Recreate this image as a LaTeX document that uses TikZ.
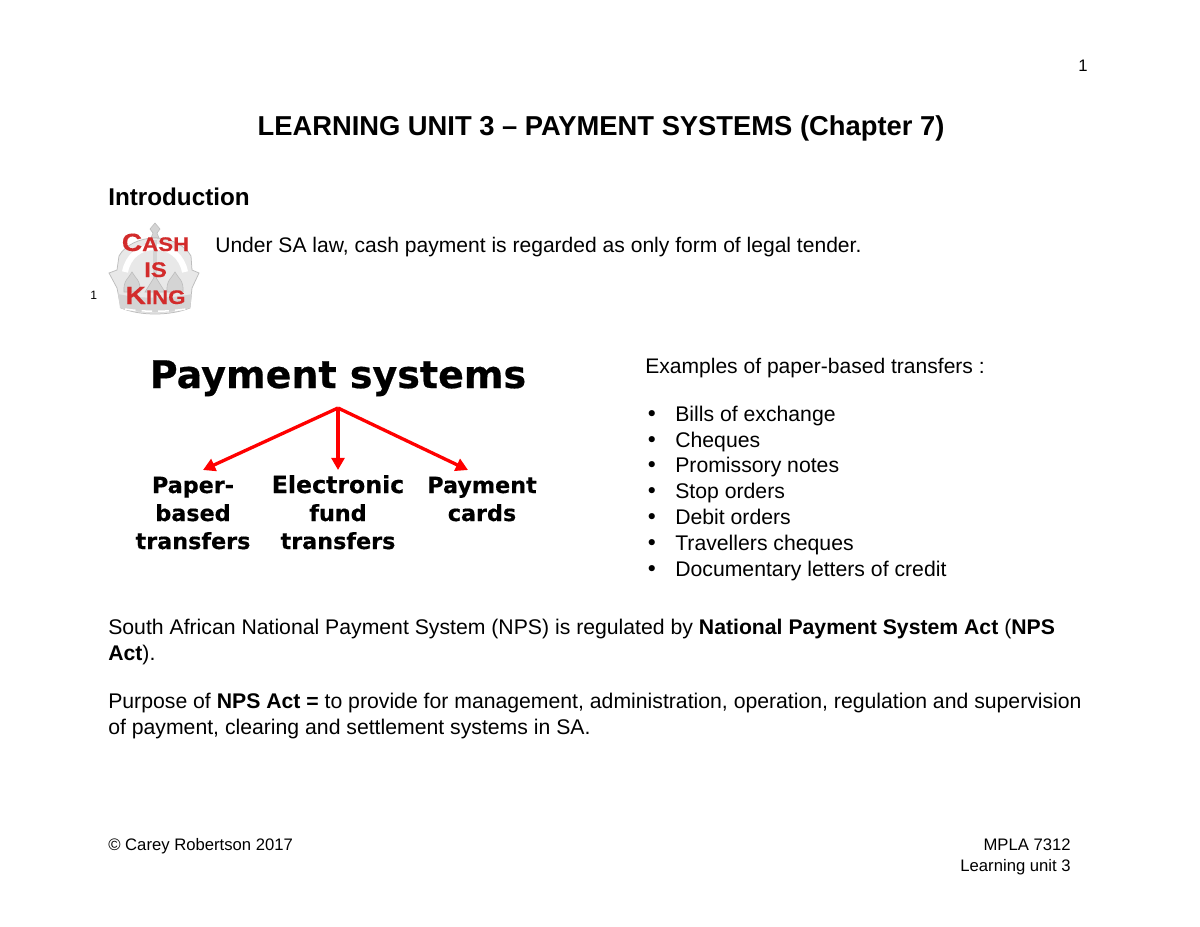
\documentclass[tikz,border=0pt]{standalone}
\usepackage{fontspec}
\setmainfont{Liberation Sans}
\newfontfamily\blk[FakeBold=0.5]{DejaVu Sans Bold}
\newfontfamily\blks[FakeBold=0.35]{DejaVu Sans Bold}
\newfontfamily\kingf[FakeStretch=1.13,FakeBold=0.2]{Liberation Sans Bold}
\newfontfamily\symf{DejaVu Sans}
\usetikzlibrary{arrows.meta}
\definecolor{crowngray}{HTML}{BDBDBD}
\definecolor{crownfill}{HTML}{E8E8E8}
\definecolor{crownmid}{HTML}{D4D4D4}
\definecolor{cashred}{HTML}{D22B2B}
\tikzset{
  x=0.66pt,y=-0.66pt,
  txt/.style={anchor=base west,inner sep=0pt,font=\fontsize{13.9}{16}\selectfont},
  para/.style={anchor=base west,inner sep=0pt,font=\fontsize{14}{16}\selectfont},
  foot/.style={inner sep=0pt,font=\fontsize{11}{13}\selectfont},
  bigt/.style={inner sep=0pt,anchor=base,font=\blk\fontsize{25.1}{28}\selectfont},
  subt/.style={inner sep=0pt,anchor=base,font=\blks\fontsize{14.7}{18}\selectfont},
  bul/.style={anchor=base,inner sep=0pt,font=\symf\fontsize{14}{14}\selectfont},
  redarrow/.style={draw=red,line width=2.2pt,-{Triangle[length=8pt,width=8.5pt]}},
  fleur/.style={fill=crownmid,draw=crowngray,line width=.4pt},
  redw/.style={inner sep=0pt,anchor=base,text=cashred}
}
\newcommand{\bigsm}[2]{\kingf\fontsize{16.5}{18}\selectfont #1\fontsize{13}{18}\selectfont #2}
\begin{document}
\begin{tikzpicture}
\path[use as bounding box,fill=white] (0,0) rectangle (1200,927);
% page text
\node[foot,anchor=base east] (pg) at (1088,71) {1};
\node[anchor=base,inner sep=0pt,font=\fontsize{18.05}{20}\selectfont\bfseries] (title) at (601,135) {LEARNING UNIT 3 – PAYMENT SYSTEMS (Chapter 7)};
\node[anchor=base west,inner sep=0pt,font=\fontsize{16}{18}\selectfont\bfseries] (intro) at (108,205) {Introduction};
\node[txt] (law) at (215,252) {Under SA law, cash payment is regarded as only form of legal tender.};
\node[anchor=base west,inner sep=0pt,font=\fontsize{8}{10}\selectfont] (fn) at (90,299) {1};
% crown
\fill[fleur] (155,223) -- (160,229) -- (157,233) -- (159,238) -- (151,238) -- (153,233) -- (150,229) -- cycle;
\fill[crownfill,draw=crowngray,line width=.5pt] (109,273) -- (117,270) -- (119,256) .. controls (125,245) and (140,238) .. (155,238) .. controls (170,238) and (185,245) .. (191,256) -- (192,270) -- (199,273) -- (192,288) -- (190,308) .. controls (170,316) and (140,316) .. (121,308) -- (117,288) -- cycle;
\draw[white,line width=4pt] (125,272) .. controls (128,256) and (140,247) .. (155,247) .. controls (170,247) and (182,256) .. (185,272);
\draw[crownmid,line width=2pt] (155,240) -- (155,300);
\foreach \c/\x in {fa/132,fb/175}{
  \fill[fleur] (\x,272) .. controls (\x+3,278) and (\x+9,280) .. (\x+8,292) -- (\x-8,292) .. controls (\x-9,280) and (\x-3,278) .. (\x,272) -- cycle;
}
\fill[fleur] (155,276) -- (165,292) -- (145,292) -- cycle;
\fill[crownmid] (118,294) .. controls (140,299) and (170,299) .. (192,294) -- (190,308) .. controls (170,314) and (140,314) .. (120,308) -- cycle;
\draw[white,line width=1pt,dash pattern=on 7pt off 4pt] (125,309) .. controls (145,312) and (165,312) .. (186,309);
\node[redw] (cash) at (155.5,251) {\bigsm{C}{ASH}};
\node[redw,font=\kingf\fontsize{14}{18}\selectfont] (is) at (155.5,277) {IS};
\node[redw] (king) at (155.5,304) {\bigsm{K}{ING}};
% chart
\node[bigt] (ps) at (338,388) {Payment systems};
\coordinate (apex) at (338,408);
\node[subt] (pa) at (193,493) {Paper-};
\node[subt] (pb) at (193,521) {based};
\node[subt] (pc) at (193,549) {transfers};
\node[subt,font=\blks\fontsize{15.6}{18}\selectfont] (ea) at (338,493) {Electronic};
\node[subt] (eb) at (338,521) {fund};
\node[subt] (ec) at (338,549) {transfers};
\node[subt] (ca) at (482,493) {Payment};
\node[subt] (cb) at (482,521) {cards};
\coordinate (pt) at (203,470);
\coordinate (et) at (338,470);
\coordinate (ct) at (468,470);
\draw[redarrow] (apex) -- (pt);
\draw[redarrow] (apex) -- (et);
\draw[redarrow] (apex) -- (ct);
% right column
\node[txt] (ex) at (645,373) {Examples of paper-based transfers :};
\foreach \n/\y/\t in {b1/421/Bills of exchange,b2/447/Cheques,b3/472/Promissory notes,b4/498/Stop orders,b5/524/Debit orders,b6/550/Travellers cheques,b7/576/Documentary letters of credit}{
  \node[bul] (d\n) at (652,\y) {•};
  \node[para] (\n) at (675,\y) {\t};
}
% paragraphs
\node[para] (s1) at (108,634) {South African National Payment System (NPS) is regulated by \textbf{National Payment System Act} (\textbf{NPS}};
\node[para] (s2) at (108,660) {\textbf{Act}).};
\node[para] (s3) at (108,708) {Purpose of \textbf{NPS Act =} to provide for management, administration, operation, regulation and supervision};
\node[para] (s4) at (108,734) {of payment, clearing and settlement systems in SA.};
% footer
\node[foot,anchor=base west] (f1) at (108,850) {© Carey Robertson 2017};
\node[foot,anchor=base east] (f2) at (1071,850) {MPLA 7312};
\node[foot,anchor=base east] (f3) at (1071,871) {Learning unit 3};
\end{tikzpicture}
\end{document}
